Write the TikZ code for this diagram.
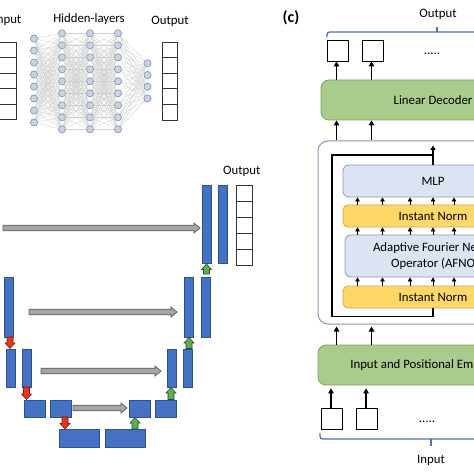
\documentclass[tikz,border=0pt]{standalone}
\usepackage{fontspec}
\setmainfont{Carlito}
\usetikzlibrary{arrows.meta}
\definecolor{ublue}{HTML}{4472C4}
\definecolor{ubluedk}{HTML}{2F528F}
\definecolor{agray}{HTML}{A6A6A6}
\definecolor{agraydk}{HTML}{5A5A5A}
\definecolor{ared}{HTML}{E8341F}
\definecolor{areddk}{HTML}{7A1A10}
\definecolor{agreen}{HTML}{5FAE57}
\definecolor{agreendk}{HTML}{24521E}
\definecolor{nfill}{HTML}{C8D3E5}
\definecolor{nedge}{HTML}{7D8CA3}
\definecolor{nline}{HTML}{CFCFCF}
\definecolor{lgreen}{HTML}{A9CB8C}
\definecolor{lgreendk}{HTML}{7C9E62}
\definecolor{lblue}{HTML}{DCE4F3}
\definecolor{lbluedk}{HTML}{8A9BB8}
\definecolor{lyel}{HTML}{FDD868}
\definecolor{lyeldk}{HTML}{C9A84A}
\definecolor{framec}{HTML}{8497B0}
\definecolor{bracec}{HTML}{4A72BE}
\newcommand\hblkarrow[3]{% x1, x2, y
  \filldraw[grayarr] (#1,{#3-2.8}) -- ({#2-6},{#3-2.8}) -- ({#2-6},{#3-5}) -- (#2,#3) -- ({#2-6},{#3+5}) -- ({#2-6},{#3+2.8}) -- (#1,{#3+2.8}) -- cycle;}
\newcommand\downblk[3]{% x, ytail, ytip
  \filldraw[redarr] ({#1-3},#2) -- ({#1+3},#2) -- ({#1+3},{#3-5.5}) -- ({#1+5},{#3-5.5}) -- (#1,#3) -- ({#1-5},{#3-5.5}) -- ({#1-3},{#3-5.5}) -- cycle;}
\newcommand\upblk[3]{% x, ytail, ytip
  \filldraw[greenarr] ({#1-3},#2) -- ({#1+3},#2) -- ({#1+3},{#3+5.5}) -- ({#1+5},{#3+5.5}) -- (#1,#3) -- ({#1-5},{#3+5.5}) -- ({#1-3},{#3+5.5}) -- cycle;}
\newcommand\ubar[4]{\filldraw[ubarsty] (#1,#2) rectangle (#3,#4);}
\tikzset{
  txt/.style={font=\fontsize{12.8bp}{15bp}\selectfont, inner sep=0pt},
  neuron/.style={circle, fill=nfill, draw=nedge, line width=0.6bp, minimum size=7.2bp, inner sep=0pt},
  conn/.style={draw=nline, line width=0.3bp},
  cell/.style={draw=black!80, line width=0.8bp, fill=white},
  ubarsty/.style={fill=ublue, draw=ubluedk, line width=0.6bp},
  grayarr/.style={fill=agray, draw=agraydk, line width=0.7bp},
  redarr/.style={fill=ared, draw=areddk, line width=0.6bp},
  greenarr/.style={fill=agreen, draw=agreendk, line width=0.6bp},
  gbox/.style={rectangle, rounded corners=8bp, fill=lgreen, draw=lgreendk, line width=0.8bp, txt},
  bbox/.style={rectangle, rounded corners=6bp, fill=lblue, draw=lbluedk, line width=0.8bp, txt, align=center},
  ybox/.style={rectangle, rounded corners=5bp, fill=lyel, draw=lyeldk, line width=0.8bp, txt},
  sqbox/.style={rectangle, draw=black, line width=0.9bp, fill=white, minimum size=21bp, inner sep=0pt},
  bigarr/.style={-{Triangle[width=5.5bp,length=5bp]}, line width=1.4bp, black},
  smallarr/.style={-{Triangle[width=4.5bp,length=4bp]}, line width=0.6bp, black},
  resid/.style={line width=1.6bp, black},
  bracesty/.style={draw=bracec, line width=1.3bp, rounded corners=2.5bp},
}
\begin{document}
\begin{tikzpicture}[x=1bp,y=-1bp]
\useasboundingbox (0,0) rectangle (474,474);
\clip (0,0) rectangle (474,474);
\fill[white] (0,0) rectangle (474,474);

% ================= panel (a) =================
\node[txt, anchor=base east] (tin) at (21.5,24) {Input};
\node[txt, anchor=base] (thid) at (89,23) {Hidden-layers};
\node[txt, anchor=base] (tout) at (170,25) {Output};
\foreach \k in {0,...,4} {
  \draw[cell] (-3,{42+15.5*\k}) rectangle (16,{42+15.5*(\k+1)});
  \draw[cell] (162,{42+15.6*\k}) rectangle (177.5,{42+15.6*(\k+1)});
}
\foreach \k in {1,...,8} \node[neuron] (a0-\k) at (34,{38.5+12*(\k-1)}) {};
\foreach \l/\xx in {1/62,2/90,3/118}
  \foreach \k in {1,...,9} \node[neuron] (a\l-\k) at (\xx,{33.3+12*(\k-1)}) {};
\foreach \k in {1,...,4} \node[neuron] (a4-\k) at (147.5,{63.3+11.7*(\k-1)}) {};
\foreach \i in {1,...,8} \foreach \j in {1,...,9} \draw[conn] (a0-\i) -- (a1-\j);
\foreach \i in {1,...,9} \foreach \j in {1,...,9} {
  \draw[conn] (a1-\i) -- (a2-\j);
  \draw[conn] (a2-\i) -- (a3-\j);
}
\foreach \i in {1,...,9} \foreach \j in {1,...,4} \draw[conn] (a3-\i) -- (a4-\j);

% ================= panel (b) =================
\node[txt, anchor=base west] (tuout) at (223,175) {Output};
\foreach \k in {0,...,4}
  \draw[cell] (236,{185+16*\k}) rectangle (252,{185+16*(\k+1)});
% level 1
\ubar{202.5}{185}{211}{263}
\ubar{218.5}{185}{227}{263}
\hblkarrow{3}{200}{228}
% level 2
\ubar{4}{277}{13}{337}
\ubar{184}{277}{193}{337}
\ubar{201}{277}{210}{337}
\hblkarrow{29}{177}{312}
\upblk{206.5}{274}{264}
% level 3
\ubar{6}{349}{15}{387}
\ubar{22}{349}{31}{387}
\ubar{167}{349}{176}{387}
\ubar{183}{349}{192}{387}
\hblkarrow{41}{161}{371}
\downblk{10}{337}{348.5}
\upblk{189}{348.5}{337.5}
% level 4
\ubar{24}{400}{45}{417}
\ubar{50}{400}{71}{417}
\ubar{129}{400}{150}{417}
\ubar{155}{400}{176}{417}
\hblkarrow{73}{127}{408}
\downblk{26.5}{387}{399.5}
\upblk{171}{399.5}{387.5}
% level 5
\ubar{59}{429}{99}{447}
\ubar{105}{429}{145}{447}
\downblk{65}{417}{429}
\upblk{135}{429}{417.5}

% ================= panel (c) =================
\node[txt, font=\fontsize{16bp}{18bp}\selectfont\bfseries, anchor=base] (tc) at (291,22.5) {(c)};
\node[txt, anchor=base] (tcout) at (438,18) {Output};
\draw[bracesty] (327,37.5) -- (327,32) -- (560,32);
\coordinate (obt) at (437,27.5);
\draw[draw=bracec, line width=1.3bp] (437,32) -- (obt);

\node[sqbox] (ob1) at (337.5,50.5) {};
\node[sqbox] (ob2) at (372.5,50.5) {};
\node[txt, anchor=base] (odots) at (432,55) {.....};

\node[gbox, minimum width=224bp, minimum height=40bp] (dec) at (433,100) {Linear Decoder};
\node[rectangle, rounded corners=10bp, draw=framec, line width=1bp, minimum width=242bp, minimum height=183bp] (frm) at (439,232.5) {};

\node[bbox, minimum width=180bp, minimum height=32bp] (mlp) at (433,181) {MLP};
\node[ybox, minimum width=180bp, minimum height=22bp] (in1) at (433,216) {Instant Norm};
\node[bbox, minimum width=180bp, minimum height=42bp] (afno) at (435,256) {Adaptive Fourier Neural\\[1bp]Operator (AFNO)};
\node[ybox, minimum width=180bp, minimum height=22bp] (in2) at (433,297) {Instant Norm};

\node[gbox, minimum width=230bp, minimum height=40bp] (emb) at (433,365) {Input and Positional Embedding};

\node[sqbox] (ib1) at (331.5,418.5) {};
\node[sqbox] (ib2) at (366.5,418.5) {};
\node[txt, anchor=base] (idots) at (427,422) {.....};
\node[txt, anchor=base] (tcin) at (431,463) {Input};
\draw[bracesty] (320,433) -- (320,439) -- (560,439);
\coordinate (ibt) at (431,446);
\draw[draw=bracec, line width=1.3bp] (431,439) -- (ibt);

% big arrows
\coordinate (ax1) at (336.5,0);
\coordinate (ax2) at (371.5,0);
\coordinate (bx1) at (331,0);
\coordinate (bx2) at (366,0);
\foreach \c in {ax1,ax2} {
  \draw[bigarr] (\c |- dec.north) -- (\c |- ob1.south);
  \draw[bigarr] (\c |- frm.north) -- (\c |- dec.south);
  \draw[bigarr, shorten >=2bp] (\c |- emb.north) -- (\c |- frm.south);
}
\foreach \c in {bx1,bx2}
  \draw[bigarr, shorten >=3bp] (\c |- ib1.north) -- (\c |- emb.south);

% small arrows between stacked boxes
\foreach \xx in {357.5,382.5,410,433,454} {
  \coordinate (sx) at (\xx,0);
  \draw[smallarr] (sx |- in1.north) -- (sx |- mlp.south);
  \draw[smallarr] (sx |- afno.north) -- (sx |- in1.south);
  \draw[smallarr] (sx |- in2.north) -- (sx |- afno.south);
}

% residual loop
\coordinate (rl) at (332,155);
\coordinate (rtop) at (433,145.5);
\draw[resid] (in2.south) -- ++(0,8) -| (rl) -- (rl -| in2.south);
\draw[resid, -{Triangle[width=5bp,length=4.5bp]}] (mlp.north) -- (rtop);
\end{tikzpicture}
\end{document}
